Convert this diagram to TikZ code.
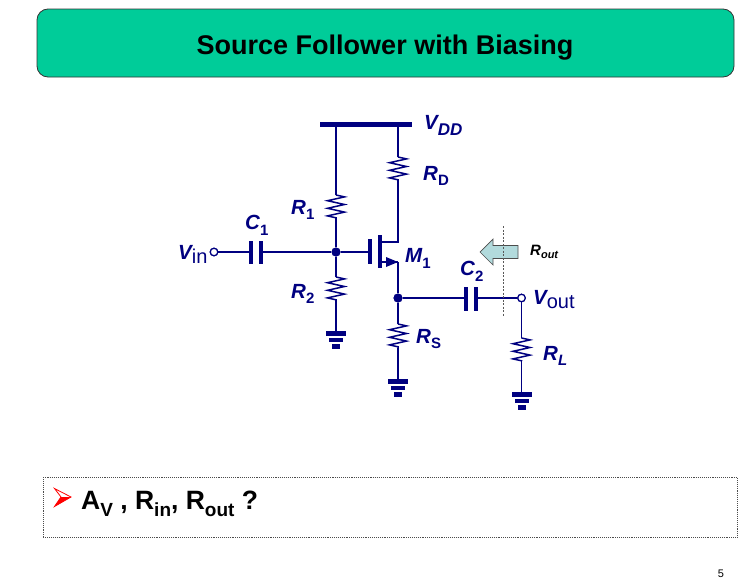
\documentclass[tikz,border=0pt]{standalone}
\usepackage{fontspec}
\setmainfont{Liberation Sans}
\usetikzlibrary{decorations.pathmorphing,arrows.meta}
\definecolor{navy}{HTML}{000080}
\definecolor{titlegreen}{HTML}{00CC99}
\definecolor{arrowteal}{HTML}{B2DADC}
\newcommand{\cfs}[1]{\fontsize{#1}{#1}\selectfont}
\newcommand{\lo}[2][0.32em]{\raisebox{-#1}{\cfs{15}#2}}
\tikzset{
  x=1pt,y=-1pt,
  wire/.style={draw=navy,line width=1.6pt},
  res/.style={draw=navy,line width=1.5pt,decorate,decoration={zigzag,amplitude=8.5pt,segment length=7.6pt}},
  plate/.style={draw=navy,line width=3.6pt},
  dot/.style={circle,fill=navy,inner sep=0pt,minimum size=9pt},
  term/.style={circle,draw=navy,fill=white,line width=1.2pt,inner sep=0pt,minimum size=7.5pt},
  lab/.style={text=navy,inner sep=0pt,font=\cfs{20.5}\bfseries\itshape},
  gnd/.pic={
    \fill[navy] (-10,-2.5) rectangle (10,2.5);
    \fill[navy] (-7,5) rectangle (7,9);
    \fill[navy] (-4,11) rectangle (4,15.5);
  }
}
\begin{document}
\begin{tikzpicture}
\useasboundingbox (0,0) rectangle (753,581);
% title
\node[draw=black!80,line width=0.8pt,fill=titlegreen,rounded corners=11pt,minimum width=697pt,minimum height=68pt,inner sep=0pt] (title) at (385.5,43) {};
\node[inner sep=0pt,font=\cfs{27}\bfseries] (titletext) at (385,47.5) {Source Follower with Biasing};
% coordinates
\coordinate (vddL) at (320,124); \coordinate (vddR) at (412,124);
\coordinate (t1) at (336,124); \coordinate (t2) at (398,124);
\coordinate (r1a) at (336,195); \coordinate (r1b) at (336,218);
\node[dot] (ng) at (336,252) {};
\coordinate (r2a) at (336,277); \coordinate (r2b) at (336,300);
\coordinate (g1) at (336,333);
\coordinate (rda) at (398,157); \coordinate (rdb) at (398,180);
\coordinate (dc) at (398,242); \coordinate (dch) at (380,242);
\coordinate (sch) at (380,262); \coordinate (sc) at (398,262);
\coordinate (gb) at (370,252);
\node[dot] (ns) at (398,298) {};
\coordinate (rsa) at (398,324); \coordinate (rsb) at (398,348);
\coordinate (g2) at (398,381);
\node[term] (vin) at (214,252) {};
\node[term] (vout) at (521.5,298) {};
\coordinate (c1l) at (251,252); \coordinate (c1r) at (261,252);
\coordinate (c2l) at (466,298); \coordinate (c2r) at (476,298);
\coordinate (rla) at (521.5,338); \coordinate (rlb) at (521.5,361);
\coordinate (g3) at (521.5,394);
% supply
\draw[navy,line width=5pt] (vddL) -- (vddR);
% wires
\draw[wire] (t1) -- (r1a); \draw[res] (r1a) -- (r1b); \draw[wire] (r1b) -- (ng);
\draw[wire] (ng) -- (r2a); \draw[res] (r2a) -- (r2b); \draw[wire] (r2b) -- (g1);
\draw[wire] (t2) -- (rda); \draw[res] (rda) -- (rdb); \draw[wire] (rdb) -- (dc) -- (dch);
\draw[wire] (vin) -- (c1l); \draw[wire] (c1r) -- (ng); \draw[wire] (ng) -- (gb);
\draw[plate] (251,241) -- (251,264); \draw[plate] (261,241) -- (261,264);
% MOSFET
\draw[plate] (370,239) -- (370,264);
\draw[plate] (380,235) -- (380,268);
\draw[wire] (sch) -- (sc);
\fill[navy] (398,262) -- (386,257) -- (386,267) -- cycle;
\draw[wire] (sc) -- (ns);
% output
\draw[wire] (ns) -- (rsa); \draw[res] (rsa) -- (rsb); \draw[wire] (rsb) -- (g2);
\draw[wire] (ns) -- (c2l); \draw[wire] (c2r) -- (vout);
\draw[plate] (466,287) -- (466,311); \draw[plate] (476,287) -- (476,311);
\draw[wire] (vout) -- (rla); \draw[res] (rla) -- (rlb); \draw[wire] (rlb) -- (g3);
\pic at (g1) {gnd}; \pic at (g2) {gnd}; \pic at (g3) {gnd};
\node[dot] at (ng) {}; \node[dot] at (ns) {};
\node[term] at (vin) {}; \node[term] at (vout) {};
% Rout arrow
\draw[draw=black!70,fill=arrowteal,line width=0.7pt] (480,252) -- (493,239) -- (493,245.5) -- (518,245.5) -- (518,258.5) -- (493,258.5) -- (493,265) -- cycle;
\draw[black!65,line width=1pt,dash pattern=on 2pt off 1.5pt] (503,226) -- (503,317);
% labels
\node[lab,anchor=base west] (lvdd) at (424,129) {V\lo{\cfs{17}DD}};
\node[lab,anchor=base west] (lrd) at (423,180) {R\lo[0.25em]{\upshape D}};
\node[lab,anchor=base west] (lr1) at (291,214) {R\lo[0.25em]{\upshape 1}};
\node[lab,anchor=base west] (lc1) at (245,229) {C\lo{\upshape 1}};
\node[lab,anchor=base west] (lvin) at (178,259) {V\lo[0.2em]{\cfs{20}\mdseries\upshape in}};
\node[lab,anchor=base west] (lr2) at (291,298) {R\lo[0.25em]{\upshape 2}};
\node[lab,anchor=base west] (lm1) at (405,262) {M\lo{\upshape 1}};
\node[lab,anchor=base west] (lc2) at (460,275) {C\lo{\upshape 2}};
\node[lab,anchor=base west] (lrs) at (416,343) {R\lo[0.25em]{\upshape S}};
\node[lab,anchor=base west] (lrl) at (543,360) {R\lo[0.25em]{L}};
\node[lab,anchor=base west] (lvout) at (533,304) {V\lo[0.2em]{\cfs{20}\mdseries\upshape out}};
\node[inner sep=0pt,anchor=base west,font=\cfs{15}\bfseries\itshape,text=black] (lrout) at (530,255) {R\raisebox{-0.25em}{\cfs{11}out}};
% question box
\node[draw=black!70,line width=0.9pt,densely dotted,minimum width=694pt,minimum height=60pt,inner sep=0pt,anchor=north west] (qbox) at (43,477) {};
\draw[red,line width=0.8pt,fill=white] (71,497) -- (54.5,488.5) -- (61,497) -- (54.5,506.5) -- cycle;
\fill[red] (71,497) -- (61,497) -- (54.5,506.5) -- cycle;
\node[inner sep=0pt,anchor=base west,font=\cfs{26.5}\bfseries] (qtext) at (81,509) {A\raisebox{-0.3em}{\cfs{19}V} , R\raisebox{-0.3em}{\cfs{19}in}, R\raisebox{-0.3em}{\cfs{19}out} ?};
\node[inner sep=0pt,font=\cfs{11}] (pagenum) at (721,574) {5};
\end{tikzpicture}
\end{document}
